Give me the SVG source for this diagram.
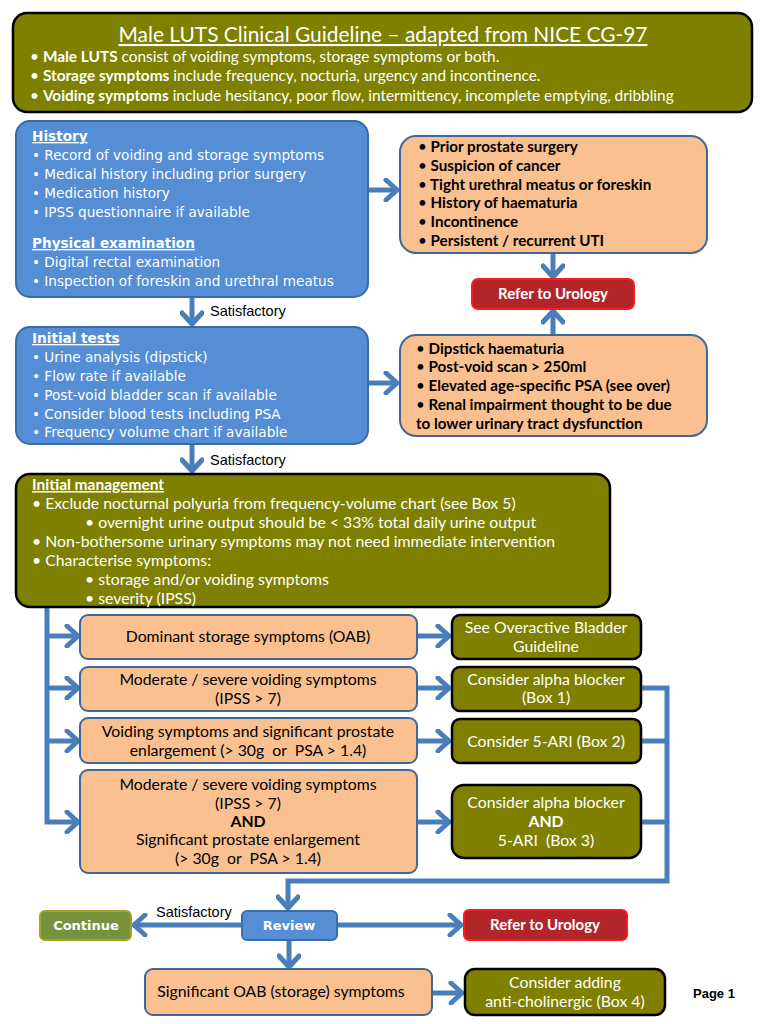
<svg xmlns="http://www.w3.org/2000/svg" width="768" height="1024" viewBox="0 0 768 1024">
<defs>
<style>
.olive{fill:#7f7f00;stroke:#000;stroke-width:2.5}
.blue{fill:#558ed5;stroke:#3a6ca8;stroke-width:2}
.peach{fill:#fac090;stroke:#40679a;stroke-width:2}
.red{fill:#b2262b;stroke:#ff1a1a;stroke-width:2}
.green{fill:#76923c;stroke:#a3a32a;stroke-width:2}
.cal{font-family:Lato,"Liberation Sans",sans-serif}
.dv{font-family:"DejaVu Sans","Liberation Sans",sans-serif}
.lib{font-family:"Liberation Sans",Arial,sans-serif}
.w{fill:#fff}
.k{fill:#000}
.b{font-weight:bold}
.n{font-weight:normal}
.u{text-decoration:underline}
.conn{fill:none;stroke:#4a7ebb;stroke-width:5}
.bt{font-size:13.6px}
.pt{font-size:15.8px}
.rt{font-size:15.2px}
</style>
<marker id="ah" viewBox="0 0 20 24" refX="16" refY="12" markerWidth="20" markerHeight="24" markerUnits="userSpaceOnUse" orient="auto">
<path d="M5,2 L16,12 L5,22" fill="none" stroke="#4a7ebb" stroke-width="5" stroke-linecap="round" stroke-linejoin="miter"/>
</marker>
</defs>
<rect width="768" height="1024" fill="#fff"/>

<g id="connectors">
<line class="conn" x1="368" y1="190" x2="397" y2="190" marker-end="url(#ah)"/>
<line class="conn" x1="553" y1="253" x2="553" y2="277" marker-end="url(#ah)"/>
<line class="conn" x1="553" y1="335" x2="553" y2="311" marker-end="url(#ah)"/>
<line class="conn" x1="368" y1="383" x2="397" y2="383" marker-end="url(#ah)"/>
<line class="conn" x1="192" y1="297" x2="192" y2="324" marker-end="url(#ah)"/>
<line class="conn" x1="192" y1="444" x2="192" y2="471" marker-end="url(#ah)"/>
<polyline class="conn" points="47,607 47,822 78,822" marker-end="url(#ah)"/>
<line class="conn" x1="45" y1="636" x2="78" y2="636" marker-end="url(#ah)"/>
<line class="conn" x1="45" y1="688" x2="78" y2="688" marker-end="url(#ah)"/>
<line class="conn" x1="45" y1="741" x2="78" y2="741" marker-end="url(#ah)"/>
<line class="conn" x1="417" y1="636" x2="449" y2="636" marker-end="url(#ah)"/>
<line class="conn" x1="417" y1="688" x2="449" y2="688" marker-end="url(#ah)"/>
<line class="conn" x1="417" y1="741" x2="449" y2="741" marker-end="url(#ah)"/>
<line class="conn" x1="417" y1="822" x2="449" y2="822" marker-end="url(#ah)"/>
<polyline class="conn" points="641,688 667,688 667,881 288,881 288,908" marker-end="url(#ah)"/>
<line class="conn" x1="641" y1="741" x2="669" y2="741"/>
<line class="conn" x1="641" y1="822" x2="669" y2="822"/>
<line class="conn" x1="242" y1="925" x2="134" y2="925" marker-end="url(#ah)"/>
<line class="conn" x1="337" y1="925" x2="461" y2="925" marker-end="url(#ah)"/>
<line class="conn" x1="289" y1="940" x2="289" y2="967" marker-end="url(#ah)"/>
<line class="conn" x1="432" y1="993" x2="462" y2="993" marker-end="url(#ah)"/>
<text class="lib k" x="210" y="316" font-size="14.5">Satisfactory</text>
<text class="lib k" x="210" y="465" font-size="14.5">Satisfactory</text>
<text class="lib k" x="156" y="917" font-size="14.5">Satisfactory</text>
</g>

<g id="header">
<rect class="olive" x="13" y="13" width="739" height="99" rx="14"/>
<text class="cal w u" x="383" y="42" font-size="20.9" text-anchor="middle">Male LUTS Clinical Guideline – adapted from NICE CG-97</text>
<text class="cal w" x="30" y="62" font-size="15.4">• <tspan class="b">Male LUTS</tspan> consist of voiding symptoms, storage symptoms or both.</text>
<text class="cal w" x="30" y="81" font-size="15.4">• <tspan class="b">Storage symptoms</tspan> include frequency, nocturia, urgency and incontinence.</text>
<text class="cal w" x="30" y="101" font-size="15.4">• <tspan class="b">Voiding symptoms</tspan> include hesitancy, poor flow, intermittency, incomplete emptying, dribbling</text>
</g>

<g id="history">
<rect class="blue" x="16" y="121" width="352" height="176" rx="14"/>
<text class="dv w b u bt" x="32" y="141">History</text>
<text class="dv w bt" x="32" y="160">• Record of voiding and storage symptoms</text>
<text class="dv w bt" x="32" y="179">• Medical history including prior surgery</text>
<text class="dv w bt" x="32" y="198">• Medication history</text>
<text class="dv w bt" x="32" y="217">• IPSS questionnaire if available</text>
<text class="dv w b u bt" x="32" y="248">Physical examination</text>
<text class="dv w bt" x="32" y="267">• Digital rectal examination</text>
<text class="dv w bt" x="32" y="286">• Inspection of foreskin and urethral meatus</text>
</g>

<g id="redflags1">
<rect class="peach" x="400" y="136" width="307" height="117" rx="16"/>
<text class="cal k b rt" x="418" y="152"><tspan class="n">•</tspan> Prior prostate surgery</text>
<text class="cal k b rt" x="418" y="171"><tspan class="n">•</tspan> Suspicion of cancer</text>
<text class="cal k b rt" x="418" y="190"><tspan class="n">•</tspan> Tight urethral meatus or foreskin</text>
<text class="cal k b rt" x="418" y="208"><tspan class="n">•</tspan> History of haematuria</text>
<text class="cal k b rt" x="418" y="227"><tspan class="n">•</tspan> Incontinence</text>
<text class="cal k b rt" x="418" y="246"><tspan class="n">•</tspan> Persistent / recurrent UTI</text>
</g>

<g id="refer1">
<rect class="red" x="472" y="279" width="162" height="30" rx="6"/>
<text class="cal w b" x="553" y="299" font-size="15" text-anchor="middle">Refer to Urology</text>
</g>

<g id="redflags2">
<rect class="peach" x="400" y="335" width="307" height="101" rx="16"/>
<text class="cal k b rt" x="416" y="354"><tspan class="n">•</tspan> Dipstick haematuria</text>
<text class="cal k b rt" x="416" y="372"><tspan class="n">•</tspan> Post-void scan &gt; 250ml</text>
<text class="cal k b rt" x="416" y="391"><tspan class="n">•</tspan> Elevated age-specific PSA (see over)</text>
<text class="cal k b rt" x="416" y="410"><tspan class="n">•</tspan> Renal impairment thought to be due</text>
<text class="cal k b rt" x="416" y="429">to lower urinary tract dysfunction</text>
</g>

<g id="tests">
<rect class="blue" x="16" y="327" width="352" height="117" rx="14"/>
<text class="dv w b u bt" x="32" y="343">Initial tests</text>
<text class="dv w bt" x="32" y="362">• Urine analysis (dipstick)</text>
<text class="dv w bt" x="32" y="381">• Flow rate if available</text>
<text class="dv w bt" x="32" y="400">• Post-void bladder scan if available</text>
<text class="dv w bt" x="32" y="419">• Consider blood tests including PSA</text>
<text class="dv w bt" x="32" y="437">• Frequency volume chart if available</text>
</g>

<g id="management">
<rect class="olive" x="16" y="474" width="594" height="133" rx="14"/>
<text class="cal w b u" x="32" y="490" font-size="15.5">Initial management</text>
<text class="cal w pt" x="32" y="509">• Exclude nocturnal polyuria from frequency-volume chart (see Box 5)</text>
<text class="cal w pt" x="85" y="528">• overnight urine output should be &lt; 33% total daily urine output</text>
<text class="cal w pt" x="32" y="547">• Non-bothersome urinary symptoms may not need immediate intervention</text>
<text class="cal w pt" x="32" y="566">• Characterise symptoms:</text>
<text class="cal w pt" x="85" y="585">• storage and/or voiding symptoms</text>
<text class="cal w pt" x="85" y="604">• severity (IPSS)</text>
</g>

<g id="p1">
<rect class="peach" x="80" y="615" width="337" height="44" rx="8"/>
<text class="cal k pt" x="248" y="642" text-anchor="middle">Dominant storage symptoms (OAB)</text>
</g>
<g id="p2">
<rect class="peach" x="80" y="667" width="337" height="44" rx="8"/>
<text class="cal k pt" x="248" y="685" text-anchor="middle">Moderate / severe voiding symptoms</text>
<text class="cal k pt" x="248" y="704" text-anchor="middle">(IPSS &gt; 7)</text>
</g>
<g id="p3">
<rect class="peach" x="80" y="718" width="337" height="45" rx="8"/>
<text class="cal k pt" x="248" y="737" text-anchor="middle">Voiding symptoms and significant prostate</text>
<text class="cal k pt" x="248" y="756" text-anchor="middle">enlargement (&gt; 30g&#160; or&#160; PSA &gt; 1.4)</text>
</g>
<g id="p4">
<rect class="peach" x="80" y="770" width="337" height="103" rx="8"/>
<text class="cal k pt" x="248" y="790" text-anchor="middle">Moderate / severe voiding symptoms</text>
<text class="cal k pt" x="248" y="809" text-anchor="middle">(IPSS &gt; 7)</text>
<text class="cal k b pt" x="248" y="827" text-anchor="middle">AND</text>
<text class="cal k pt" x="248" y="845" text-anchor="middle">Significant prostate enlargement</text>
<text class="cal k pt" x="248" y="864" text-anchor="middle">(&gt; 30g&#160; or&#160; PSA &gt; 1.4)</text>
</g>

<g id="o1">
<rect class="olive" x="452" y="615" width="189" height="44" rx="8"/>
<text class="cal w pt" x="546" y="633" text-anchor="middle">See Overactive Bladder</text>
<text class="cal w pt" x="546" y="652" text-anchor="middle">Guideline</text>
</g>
<g id="o2">
<rect class="olive" x="452" y="667" width="189" height="44" rx="8"/>
<text class="cal w pt" x="546" y="685" text-anchor="middle">Consider alpha blocker</text>
<text class="cal w pt" x="546" y="703" text-anchor="middle">(Box 1)</text>
</g>
<g id="o3">
<rect class="olive" x="452" y="719" width="189" height="44" rx="8"/>
<text class="cal w pt" x="546" y="747" text-anchor="middle">Consider 5-ARI (Box 2)</text>
</g>
<g id="o4">
<rect class="olive" x="452" y="785" width="189" height="73" rx="12"/>
<text class="cal w pt" x="546" y="808" text-anchor="middle">Consider alpha blocker</text>
<text class="cal w b pt" x="546" y="827" text-anchor="middle">AND</text>
<text class="cal w pt" x="546" y="846" text-anchor="middle">5-ARI&#160; (Box 3)</text>
</g>

<g id="continue">
<rect class="green" x="40" y="911" width="91" height="29" rx="5"/>
<text class="dv w b" x="86" y="930" font-size="13" text-anchor="middle">Continue</text>
</g>
<g id="review">
<rect class="blue" x="242" y="911" width="95" height="29" rx="5"/>
<text class="dv w b" x="289" y="930" font-size="13" text-anchor="middle">Review</text>
</g>
<g id="refer2">
<rect class="red" x="464" y="910" width="163" height="30" rx="5"/>
<text class="cal w b" x="545" y="930" font-size="15" text-anchor="middle">Refer to Urology</text>
</g>
<g id="oab">
<rect class="peach" x="145" y="969" width="287" height="46" rx="8"/>
<text class="cal k pt" x="281" y="997" text-anchor="middle">Significant OAB (storage) symptoms</text>
</g>
<g id="anticholinergic">
<rect class="olive" x="465" y="969" width="200" height="46" rx="10"/>
<text class="cal w pt" x="565" y="988" text-anchor="middle">Consider adding</text>
<text class="cal w pt" x="565" y="1007" text-anchor="middle">anti-cholinergic (Box 4)</text>
</g>
<text class="lib k b" x="693" y="998" font-size="13">Page 1</text>
</svg>
